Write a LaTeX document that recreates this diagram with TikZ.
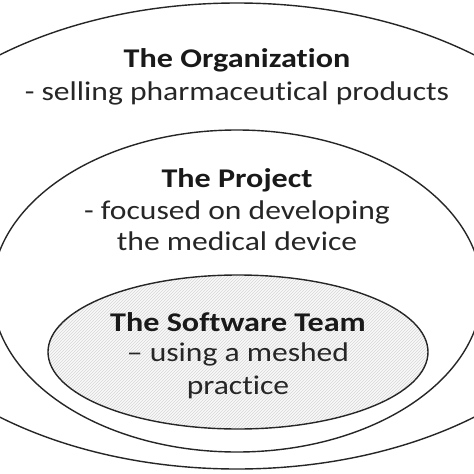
\documentclass[tikz,border=0pt]{standalone}
\usepackage{fontspec}
\setmainfont{Carlito}[Ligatures={NoCommon}]
\usetikzlibrary{patterns}
\tikzset{
  ring/.style={draw=black!85, line width=1.4pt},
  title/.style={font=\fontsize{27}{33}\selectfont\bfseries, text=black!90, xscale=1.19, inner sep=0pt},
  sub/.style={font=\fontsize{27}{33}\selectfont, text=black!85, xscale=1.17, inner sep=0pt}
}
\begin{document}
\begin{tikzpicture}[x=1pt,y=-1pt]
\useasboundingbox (0,0) rectangle (474,474);
\clip (0,0) rectangle (474,474);
\fill[white] (0,0) rectangle (474,474);
\draw[ring] (237,236) ellipse [x radius=377, y radius=233];
\draw[ring] (237,291) ellipse [x radius=245, y radius=161];
\fill[gray!5] (238,352) ellipse [x radius=190, y radius=77];
\fill[pattern=north east lines, pattern color=gray!32] (238,352) ellipse [x radius=190, y radius=77];
\draw[ring] (238,352) ellipse [x radius=190, y radius=77];
\node[title] (org) at (237,60) {The Organization};
\node[sub] (orgd) at (237,93) {- selling pharmaceutical products};
\node[title] (proj) at (237,180) {The Project};
\node[sub] (projd1) at (237,212) {- focused on developing};
\node[sub] (projd2) at (237,241) {the medical device};
\node[title] (team) at (238,322) {The Software Team};
\node[sub] (teamd1) at (238,354) {– using a meshed};
\node[sub] (teamd2) at (238,387) {practice};
\end{tikzpicture}
\end{document}
